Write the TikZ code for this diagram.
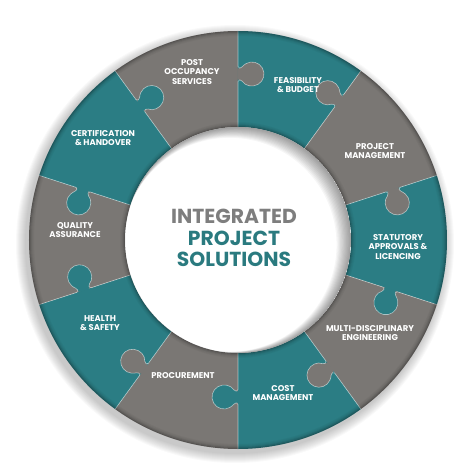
\documentclass[tikz,border=0pt]{standalone}
\usepackage{fontspec}
\setmainfont{Poppins}
\usetikzlibrary{positioning}

\definecolor{pieceteal}{HTML}{2B7D84}
\definecolor{piecegray}{HTML}{7A7774}
\definecolor{titlegray}{HTML}{7E7E7E}
\definecolor{titleteal}{HTML}{2A7A7F}

\newcommand{\ringin}{113}
\newcommand{\ringout}{209}

\begin{document}
\begin{tikzpicture}[
    x=1pt, y=1pt,
    lbl/.style={align=center, text=white, font=\bfseries\fontsize{8.4}{9.4}\selectfont, inner sep=0pt},
    title/.style={align=center, text=titleteal, font=\bfseries\fontsize{20.3}{21.5}\selectfont, inner sep=0pt},
    seam/.style={draw=white, draw opacity=0.55, line width=0.6pt, rounded corners=1.5pt},
    rim/.style={draw=black, line width=1pt}
]
\useasboundingbox (-238,-234) rectangle (236,240);

% ===== OMBRA ESTERNA =====
\foreach \k in {1,...,10}
  \fill[black, opacity=0.025] (-3,-4) circle (\ringout+\k);

% ===== SETTORI DELL'ANELLO =====
\foreach \a/\col in {126/piecegray, 90/pieceteal, 54/piecegray, 18/pieceteal,
                     -18/piecegray, -54/pieceteal, -90/piecegray, -126/pieceteal,
                     -162/piecegray, 162/pieceteal}
  \fill[\col] (\a:\ringout) arc[start angle=\a, end angle=\a-36, radius=\ringout]
    -- (\a-36:\ringin) arc[start angle=\a-36, end angle=\a, radius=\ringin] -- cycle;

% ===== INCASTRI (angolo / raggio / verso / colore) =====
\foreach \ang/\m/\s/\col in {90/166/-1/piecegray, 54/172/1/piecegray, 18/163/-1/piecegray,
                             -18/160/-1/pieceteal, -54/157/-1/piecegray, -90/157/-1/pieceteal,
                             -126/160/-1/piecegray, -162/162/-1/pieceteal, 162/163/1/pieceteal,
                             126/166/-1/pieceteal}{
  \begin{scope}[rotate=\ang]
    \fill[\col, rounded corners=1.5pt] ({\m-6},{-0.6*\s}) -- ({\m-6},{3.6*\s})
      arc[start angle={-120*\s}, end angle={-420*\s}, radius=12] -- ({\m+6},{-0.6*\s}) -- cycle;
    \draw[seam] (\ringin,0) -- ({\m-6},0) -- ({\m-6},{3.6*\s})
      arc[start angle={-120*\s}, end angle={-420*\s}, radius=12] -- ({\m+6},0) -- (\ringout,0);
  \end{scope}
}

% ===== BORDI SCURI (effetto rilievo) =====
\foreach \k/\op in {0/0.28, 1/0.18, 2/0.11, 3/0.06, 4/0.03}{
  \draw[rim, opacity=\op] (0,0) circle (\ringout-0.5-\k);
  \draw[rim, opacity=\op] (0,0) circle (\ringin+0.5+\k);
}

% ===== FORO CENTRALE CON OMBRA INTERNA =====
\fill[white] (0,0) circle (\ringin);
\begin{scope}
  \clip (0,0) circle (\ringin);
  \foreach \k in {1,...,12}
    \fill[black, opacity=0.035, even odd rule] (0,0) circle (\ringin)
      ({-0.7*\k},{-0.4*\k}) circle (\ringin-0.5*\k);
\end{scope}

% ===== ETICHETTE DEI TASSELLI =====
\node[lbl] (POST)  at (-46,168)  {POST\\OCCUPANCY\\SERVICES};
\node[lbl] (FEAS)  at (60,155)   {FEASIBILITY\\\& BUDGET};
\node[lbl] (PM)    at (137,89)   {PROJECT\\MANAGEMENT};
\node[lbl] (STAT)  at (160,-7)   {STATUTORY\\APPROVALS \&\\LICENCING};
\node[lbl] (MULTI) at (132,-93)  {MULTI-DISCIPLINARY\\ENGINEERING};
\node[lbl] (COST)  at (45,-153)  {COST\\MANAGEMENT};
\node[lbl] (PROC)  at (-55,-136) {PROCUREMENT};
\node[lbl] (HS)    at (-138,-83) {HEALTH\\\& SAFETY};
\node[lbl] (QA)    at (-163,10)  {QUALITY\\ASSURANCE};
\node[lbl] (CERT)  at (-135,102) {CERTIFICATION\\\& HANDOVER};

% ===== TITOLO =====
\node[title] (TITLE) at (-4,2) {{\color{titlegray}INTEGRATED}\\PROJECT\\SOLUTIONS};

\end{tikzpicture}
\end{document}
